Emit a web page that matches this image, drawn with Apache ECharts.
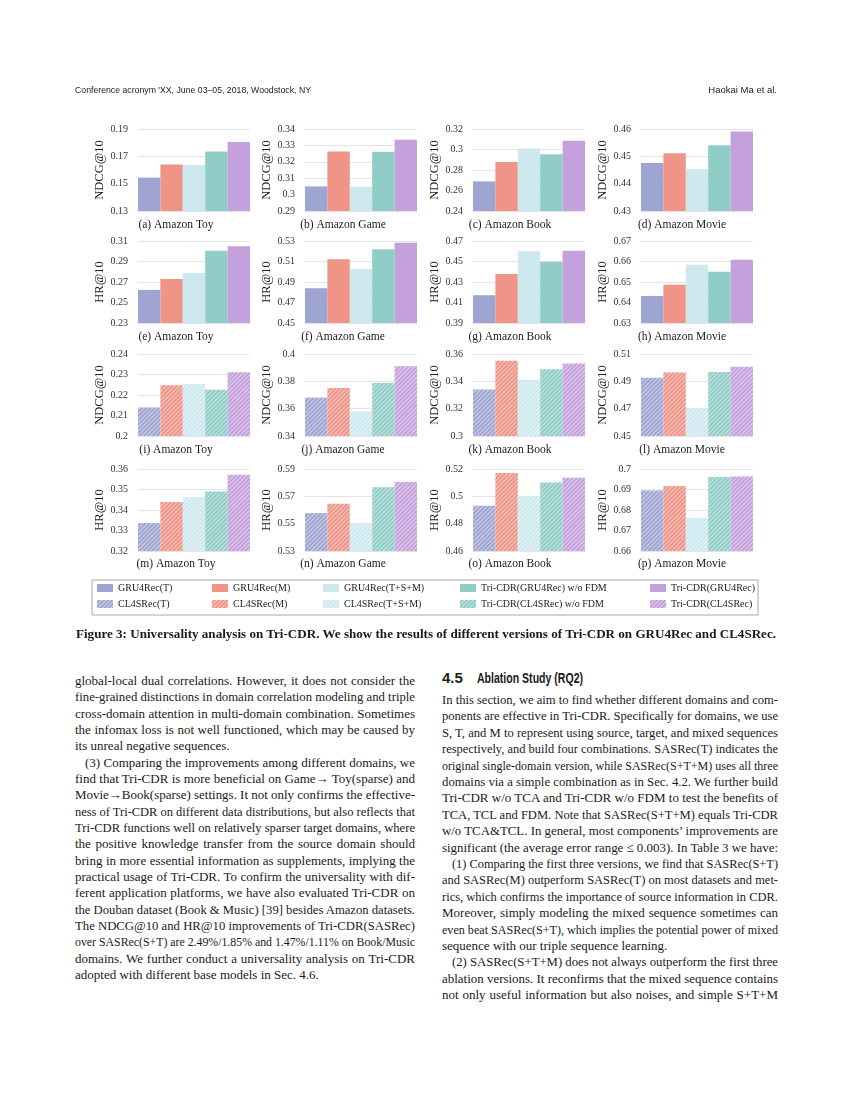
<!DOCTYPE html>
<html><head><meta charset="utf-8">
<script src="https://cdn.jsdelivr.net/npm/echarts@6/dist/echarts.min.js"></script>
<style>
html,body{margin:0;padding:0;background:#fff;}
#page{position:relative;width:850px;height:1100px;overflow:hidden;background:#fff;}
#chart{position:absolute;left:0;top:0;width:850px;height:650px;}
.ln{position:absolute;white-space:nowrap;font-family:'Liberation Serif','DejaVu Serif',serif;font-size:13px;color:#1a1a1a;transform-origin:0 50%;line-height:16px;height:16px;}
.hd{font-family:'Liberation Sans','DejaVu Sans',sans-serif;font-size:9.5px;color:#222;}
.cap{font-weight:bold;font-size:13px;}
.sec{font-family:'Liberation Sans Narrow','Liberation Sans','DejaVu Sans',sans-serif;font-weight:bold;font-size:15px;}
</style></head>
<body><div id="page"><div id="chart"></div></div>
<script>
// ---------- data ----------
const gruNames = ['GRU4Rec(T)','GRU4Rec(M)','GRU4Rec(T+S+M)','Tri-CDR(GRU4Rec) w/o FDM','Tri-CDR(GRU4Rec)'];
const clNames  = ['CL4SRec(T)','CL4SRec(M)','CL4SRec(T+S+M)','Tri-CDR(CL4SRec) w/o FDM','Tri-CDR(CL4SRec)'];
const datasets = ['Amazon Toy','Amazon Game','Amazon Book','Amazon Movie'];
const rowMetrics = ['NDCG@10','HR@10','NDCG@10','HR@10'];
const captionLetters = ['a','b','c','d','e','f','g','h','i','j','k','l','m','n','o','p'];

// GRU4Rec rows
const toyNdcgGru   = [0.1544, 0.1640, 0.1636, 0.1735, 0.1804];
const gameNdcgGru  = [0.3050, 0.3263, 0.3048, 0.3261, 0.3335];
const bookNdcgGru  = [0.2689, 0.2879, 0.3010, 0.2954, 0.3085];
const movieNdcgGru = [0.4476, 0.4511, 0.4453, 0.4541, 0.4591];
const toyHrGru     = [0.2623, 0.2729, 0.2787, 0.3006, 0.3048];
const gameHrGru    = [0.4839, 0.5123, 0.5026, 0.5219, 0.5284];
const bookHrGru    = [0.4171, 0.4377, 0.4600, 0.4497, 0.4606];
const movieHrGru   = [0.6432, 0.6487, 0.6584, 0.6550, 0.6608];
// CL4SRec rows
const toyNdcgCl    = [0.2139, 0.2248, 0.2254, 0.2226, 0.2311];
const gameNdcgCl   = [0.3681, 0.3751, 0.3580, 0.3788, 0.3911];
const bookNdcgCl   = [0.3341, 0.3551, 0.3412, 0.3489, 0.3531];
const movieNdcgCl  = [0.4927, 0.4964, 0.4698, 0.4969, 0.5006];
const toyHrCl      = [0.3336, 0.3439, 0.3462, 0.3490, 0.3572];
const gameHrCl     = [0.5577, 0.5646, 0.5498, 0.5767, 0.5804];
const bookHrCl     = [0.4931, 0.5170, 0.5002, 0.5101, 0.5136];
const movieHrCl    = [0.6895, 0.6917, 0.6762, 0.6961, 0.6964];

// axis ticks (min, max, step) per panel a..p
const axisMin  = [0.13,0.29,0.24,0.43, 0.23,0.45,0.39,0.63, 0.20,0.34,0.30,0.45, 0.32,0.53,0.46,0.66];
const axisMax  = [0.19,0.34,0.32,0.46, 0.31,0.53,0.47,0.67, 0.24,0.40,0.36,0.51, 0.36,0.59,0.52,0.70];
const axisStep = [0.02,0.01,0.02,0.01, 0.02,0.02,0.02,0.01, 0.01,0.02,0.02,0.02, 0.01,0.02,0.02,0.01];

const panels = [toyNdcgGru, gameNdcgGru, bookNdcgGru, movieNdcgGru,
                toyHrGru, gameHrGru, bookHrGru, movieHrGru,
                toyNdcgCl, gameNdcgCl, bookNdcgCl, movieNdcgCl,
                toyHrCl, gameHrCl, bookHrCl, movieHrCl];

// ---------- styles ----------
const colors = ['#9ea5d2','#ef9487','#cde8ef','#8fcdc6','#c4a1dc'];
const serif = "'Liberation Serif','DejaVu Serif',serif";
const hatch = {symbol:'rect', symbolSize:1, color:'rgba(255,255,255,0.5)', dashArrayX:[1,0], dashArrayY:[1,2], rotation:-Math.PI/4};
const colLeft = [138,305,473,641], rowTop = [129,241,354,469], plotW = 112, plotH = 82;
const capX = [176,343,510,682], capY = [225,337,450,564];

const grids=[], xAxes=[], yAxes=[], series=[], graphics=[], legends=[];
for (let k=0;k<16;k++){
  const r=Math.floor(k/4), c=k%4;
  grids.push({left:colLeft[c], top:rowTop[r], width:plotW, height:plotH});
  xAxes.push({type:'category', gridIndex:k, data:[datasets[c]], show:false});
  yAxes.push({type:'value', gridIndex:k, min:axisMin[k], max:axisMax[k], interval:axisStep[k],
    name:rowMetrics[r], nameLocation:'middle', nameGap:18,
    nameTextStyle:{fontFamily:serif, fontSize:12.5, color:'#222'},
    axisLine:{show:false}, axisTick:{show:false},
    axisLabel:{fontFamily:serif, fontSize:10, color:'#333', margin:10},
    splitLine:{show:true, lineStyle:{color:'#e4e4e4', width:1}}});
  const names = r<2 ? gruNames : clNames;
  for (let s=0;s<5;s++){
    const st = {color:colors[s]};
    if (r>=2) st.decal = hatch;
    series.push({type:'bar', name:names[s], xAxisIndex:k, yAxisIndex:k, data:[panels[k][s]],
      barGap:'0%', barCategoryGap:'0%', itemStyle:st, silent:true});
  }
  graphics.push({type:'text', x:capX[c], y:capY[r], silent:true,
    style:{text:'('+captionLetters[k]+') '+datasets[c], align:'center', verticalAlign:'middle',
      fontFamily:serif, fontSize:11.5, fill:'#1a1a1a'}});
}
graphics.push({type:'rect', shape:{x:92,y:580,width:666,height:35}, silent:true,
  style:{fill:'none', stroke:'#a8a8a8', lineWidth:1}});
const legX = [97,212,323,460,650];
for (let i=0;i<5;i++){
  legends.push({data:[gruNames[i]], left:legX[i], top:583, icon:'rect', itemWidth:16, itemHeight:8, padding:0, itemGap:0,
    selectedMode:false, textStyle:{fontFamily:serif, fontSize:10, color:'#222'}});
  legends.push({data:[clNames[i]], left:legX[i], top:599, icon:'rect', itemWidth:16, itemHeight:8, padding:0, itemGap:0,
    selectedMode:false, textStyle:{fontFamily:serif, fontSize:10, color:'#222'}});
}
const chart = echarts.init(document.getElementById('chart'), null, {renderer:'canvas'});
chart.setOption({animation:false, backgroundColor:'transparent', grid:grids, xAxis:xAxes, yAxis:yAxes,
  series:series, legend:legends, graphic:graphics});

// ---------- page text ----------
const page = document.getElementById('page');
function place(txt, x, yc, w, cls, mode){
  const d=document.createElement('div'); d.className='ln '+(cls||''); d.textContent=txt;
  d.style.left=x+'px'; d.style.top=(yc-8)+'px'; page.appendChild(d);
  const nat=d.getBoundingClientRect().width;
  if (mode==='j'){
    const sp=(txt.match(/ /g)||[]).length;
    if (nat<w && sp>0) d.style.wordSpacing=((w-nat)/sp)+'px';
    else if (nat>w) d.style.transform='scaleX('+(w/nat)+')';
  } else if (mode==='fit'){
    d.style.transform='scaleX('+(w/nat)+')';
  } else if (mode==='right'){
    d.style.left=(x-nat)+'px';
  } else if (w && nat>w){
    d.style.transform='scaleX('+(w/nat)+')';
  }
}
place("Conference acronym 'XX, June 03\u201305, 2018, Woodstock, NY", 75, 90, 236, 'hd', 'fit');
place("Haokai Ma et al.", 777, 90, 0, 'hd', 'right');
place("Figure 3: Universality analysis on Tri-CDR. We show the results of different versions of Tri-CDR on GRU4Rec and CL4SRec.", 76, 634, 700, 'cap', 'fit');

const leftLines = [
 ["global-local dual correlations. However, it does not consider the",'j',0],
 ["fine-grained distinctions in domain correlation modeling and triple",'j',0],
 ["cross-domain attention in multi-domain combination. Sometimes",'j',0],
 ["the infomax loss is not well functioned, which may be caused by",'j',0],
 ["its unreal negative sequences.",'',0],
 ["(3) Comparing the improvements among different domains, we",'j',10],
 ["find that Tri-CDR is more beneficial on Game\u2192 Toy(sparse) and",'j',0],
 ["Movie\u2192Book(sparse) settings. It not only confirms the effective-",'j',0],
 ["ness of Tri-CDR on different data distributions, but also reflects that",'j',0],
 ["Tri-CDR functions well on relatively sparser target domains, where",'j',0],
 ["the positive knowledge transfer from the source domain should",'j',0],
 ["bring in more essential information as supplements, implying the",'j',0],
 ["practical usage of Tri-CDR. To confirm the universality with dif-",'j',0],
 ["ferent application platforms, we have also evaluated Tri-CDR on",'j',0],
 ["the Douban dataset (Book & Music) [39] besides Amazon datasets.",'j',0],
 ["The NDCG@10 and HR@10 improvements of Tri-CDR(SASRec)",'j',0],
 ["over SASRec(S+T) are 2.49%/1.85% and 1.47%/1.11% on Book/Music",'j',0],
 ["domains. We further conduct a universality analysis on Tri-CDR",'j',0],
 ["adopted with different base models in Sec. 4.6.",'',0]
];
const rightLines = [
 ["In this section, we aim to find whether different domains and com-",'j',0],
 ["ponents are effective in Tri-CDR. Specifically for domains, we use",'j',0],
 ["S, T, and M to represent using source, target, and mixed sequences",'j',0],
 ["respectively, and build four combinations. SASRec(T) indicates the",'j',0],
 ["original single-domain version, while SASRec(S+T+M) uses all three",'j',0],
 ["domains via a simple combination as in Sec. 4.2. We further build",'j',0],
 ["Tri-CDR w/o TCA and Tri-CDR w/o FDM to test the benefits of",'j',0],
 ["TCA, TCL and FDM. Note that SASRec(S+T+M) equals Tri-CDR",'j',0],
 ["w/o TCA&TCL. In general, most components\u2019 improvements are",'j',0],
 ["significant (the average error range \u2264 0.003). In Table 3 we have:",'j',0],
 ["(1) Comparing the first three versions, we find that SASRec(S+T)",'j',10],
 ["and SASRec(M) outperform SASRec(T) on most datasets and met-",'j',0],
 ["rics, which confirms the importance of source information in CDR.",'j',0],
 ["Moreover, simply modeling the mixed sequence sometimes can",'j',0],
 ["even beat SASRec(S+T), which implies the potential power of mixed",'j',0],
 ["sequence with our triple sequence learning.",'',0],
 ["(2) SASRec(S+T+M) does not always outperform the first three",'j',10],
 ["ablation versions. It reconfirms that the mixed sequence contains",'j',0],
 ["not only useful information but also noises, and simple S+T+M",'j',0]
];
const colW = 340;
leftLines.forEach((l,i)=>place(l[0], 75+l[2], 681+16.33*i, colW-l[2], '', l[1]));
place("4.5", 442, 678, 0, 'sec', '');
place("Ablation Study (RQ2)", 477, 678, 106, 'sec', 'fit');
rightLines.forEach((l,i)=>place(l[0], 442+l[2], 700+16.4*i, 336-l[2], '', l[1]));
</script></body></html>
